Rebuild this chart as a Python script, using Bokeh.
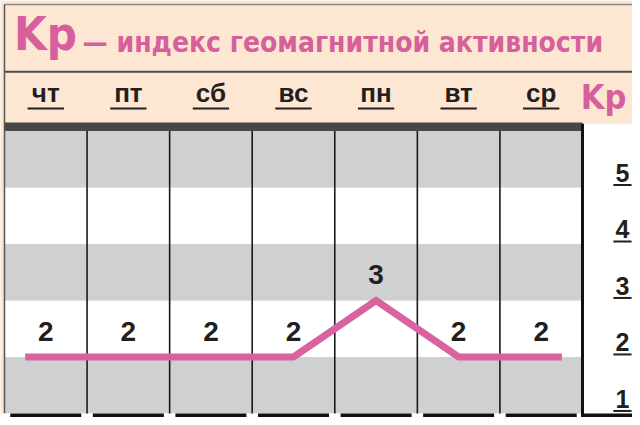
from bokeh.plotting import figure
from bokeh.models import Range1d
from bokeh.embed import file_html
from bokeh.resources import INLINE
from bokeh.core.properties import value

# ---- data ----
days = ["чт", "пт", "сб", "вс", "пн", "вт", "ср"]
kp = [2, 2, 2, 2, 3, 2, 2]
kp_levels = [1, 2, 3, 4, 5]
title_main = "Kp"
title_rest = "— индекс геомагнитной активности"
panel_title = "Kp"

# ---- styles ----
PEACH = "#fde7d3"
GRAY = "#cfd0d2"
PINK = "#d6609b"
LINE_PINK = "#d8639f"
DARK = "#231f20"
SANS = "Liberation Sans"
COND = "DejaVu Sans Condensed"

n = len(days)
xs = list(range(n))
x_left, x_right = -0.5, n - 0.5
x_far = 7.4
y_bot = kp_levels[0]
y_top = kp_levels[-1] + 1
y_border = 8.239

p = figure(width=632, height=417, x_range=Range1d(-0.5484, 7.1056), y_range=Range1d(0.929, 8.310),
           output_backend="svg", toolbar_location=None, min_border=0,
           x_axis_location=None, y_axis_location=None)
p.grid.visible = False
p.outline_line_color = None
p.background_fill_color = PEACH
p.border_fill_color = PEACH

# stripes (one band per Kp level)
bands_lo = kp_levels
bands_col = [GRAY if (k % 2 == 1) else "white" for k in bands_lo]
p.quad(left=x_left, right=x_right, bottom=bands_lo, top=[k + 1 for k in bands_lo],
       fill_color=bands_col, line_color=None)

# dark band under header
p.quad(left=x_left, right=x_right, bottom=y_top, top=y_top + 0.15, fill_color="#474747", line_color=None)
# right panel
p.quad(left=x_right, right=x_far, bottom=y_bot, top=y_top + 0.13, fill_color="white", line_color=None)
# separator between title and header, outer border
p.segment(x0=x_left, x1=x_far, y0=7.05, y1=7.05, line_color="#4d4d4d", line_width=2)
p.segment(x0=x_left, x1=x_far, y0=y_border, y1=y_border, line_color="#8a8a8a", line_width=1.5)
p.segment(x0=x_left, x1=x_left, y0=y_bot, y1=y_border, line_color="#555555", line_width=1.5)

# bottom bar with gaps at the dividers
p.quad(left=-1, right=x_far, bottom=0.5, top=y_bot, fill_color="white", line_color=None)
p.quad(left=[x - 0.5 + 0.07 for x in xs], right=[x + 0.5 - 0.07 for x in xs],
       bottom=0.5, top=y_bot, fill_color="#111111", line_color=None)
p.quad(left=x_right, right=x_far, bottom=0.5, top=y_bot, fill_color="#111111", line_color=None)

# column dividers
div_x = [x + 0.5 for x in xs[:-1]]
p.segment(x0=div_x, x1=div_x, y0=y_bot, y1=y_top, line_color="#1a1a1a", line_width=1.6)
p.segment(x0=x_right, x1=x_right, y0=0.5, y1=y_top + 0.13, line_color="#111111", line_width=3)

# Kp line
lx = [xs[0] - 0.25] + xs + [xs[-1] + 0.25]
ly = [kp[0]] + kp + [kp[-1]]
p.line(lx, ly, line_color=LINE_PINK, line_width=7, line_join="miter")

# value labels
p.text(x=xs, y=kp, text=[str(v) for v in kp], text_align="center", text_baseline="bottom",
       y_offset=-16, text_font=value(SANS), text_font_style="bold", text_font_size="28px",
       text_color=DARK)

# day labels (underlined)
day_y = 6.407
underline_y = 6.398
p.text(x=xs, y=day_y, text=days, text_align="center", text_baseline="bottom",
       text_font=value(SANS), text_font_style="bold", text_font_size="26px", text_color=DARK)
p.segment(x0=[x - 0.22 for x in xs], x1=[x + 0.22 for x in xs], y0=underline_y, y1=underline_y,
          line_color=DARK, line_width=2)

# header Kp
p.text(x=[6.48], y=[6.25], text=[panel_title], text_align="left", text_baseline="bottom",
       text_font=value(COND), text_font_style="bold", text_font_size="34px",
       text_color=PINK)

# right panel Kp levels (underlined)
lev_x = 6.984
p.text(x=lev_x, y=[k + 0.1 for k in kp_levels], text=[str(k) for k in kp_levels],
       text_align="center", text_baseline="bottom", text_font=value(SANS),
       text_font_style="bold", text_font_size="25px", text_color=DARK)
p.segment(x0=lev_x - 0.11, x1=lev_x + 0.11, y0=[k + 0.045 for k in kp_levels],
          y1=[k + 0.045 for k in kp_levels], line_color=DARK, line_width=2)

# title
p.text(x=[-0.385], y=[7.24], text=[title_main], text_align="left", text_baseline="bottom",
       text_font=value(COND), text_font_style="bold", text_font_size="47px",
       text_color=PINK)
p.text(x=[0.445], y=[7.28], text=[title_rest], text_align="left", text_baseline="bottom",
       text_font=value(COND), text_font_style="bold", text_font_size="28px",
       text_color=PINK)

open("out.html", "w").write(file_html(p, INLINE))
